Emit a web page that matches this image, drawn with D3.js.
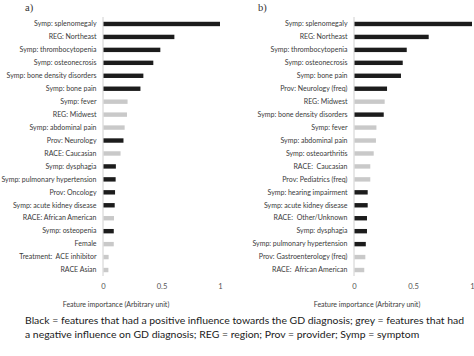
<!DOCTYPE html>
<html>
<head>
<meta charset="utf-8">
<script src="https://cdn.jsdelivr.net/npm/d3@7"></script>
<style>
html,body{margin:0;padding:0;background:#fff;}
svg{display:block;}
svg text{white-space:pre;}
</style>
</head>
<body>
<svg id="chart" width="474" height="356"></svg>
<script>
// Panel a)
const labelsA = ["Symp: splenomegaly","REG: Northeast","Symp: thrombocytopenia","Symp: osteonecrosis","Symp: bone density disorders","Symp: bone pain","Symp: fever","REG: Midwest","Symp: abdominal pain","Prov: Neurology","RACE: Caucasian","Symp: dysphagia","Symp: pulmonary hypertension","Prov: Oncology","Symp: acute kidney disease","RACE: African American","Symp: osteopenia","Female","Treatment:  ACE inhibitor","RACE Asian"];
const valuesA = [1.0,0.61,0.49,0.43,0.345,0.32,0.21,0.205,0.185,0.175,0.15,0.11,0.108,0.103,0.10,0.094,0.092,0.092,0.048,0.046];
const positiveA = [1,1,1,1,1,1,0,0,0,1,0,1,1,1,1,0,1,0,0,0];
// Panel b)
const labelsB = ["Symp: splenomegaly","REG: Northeast","Symp: thrombocytopenia","Symp: osteonecrosis","Symp: bone pain","Prov: Neurology (freq)","REG: Midwest","Symp: bone density disorders","Symp: fever","Symp: abdominal pain","Symp: osteoarthritis","RACE:  Caucasian","Prov: Pediatrics (freq)","Symp: hearing impairment","Symp: acute kidney disease","RACE:  Other/Unknown","Symp: dysphagia","Symp: pulmonary hypertension","Prov: Gastroenterology (freq)","RACE:  African American"];
const valuesB = [1.0,0.633,0.447,0.413,0.398,0.28,0.26,0.252,0.19,0.186,0.167,0.138,0.138,0.116,0.116,0.11,0.11,0.10,0.096,0.087];
const positiveB = [1,1,1,1,1,1,0,1,0,0,0,0,0,1,1,1,1,1,0,0];
const tickValues = [0, 0.5, 1];
const tickLabels = ["0", "0.5", "1"];
const axisTitle = "Feature importance (Arbitrary unit)";
const panelTags = ["a)", "b)"];
const captionLines = ["Black = features that had a positive influence towards the GD diagnosis; grey = features that had","a negative influence on GD diagnosis; REG = region; Prov = provider; Symp = symptom"];

const svg = d3.select("#chart");
const FONT = "Lato, 'Open Sans', sans-serif";

function panel(cfg) {
  const {labels, values, positive, x0, x1, tag, tagX, titleX} = cfg;
  const x = d3.scaleLinear().domain([0, 1]).range([x0, x1]);
  const y = d3.scaleBand().domain(labels).range([17.5, 276.5]).paddingInner(0.66).paddingOuter(0.33);
  const g = svg.append("g");
  g.append("line").attr("x1", x0).attr("x2", x0).attr("y1", 17).attr("y2", 276)
    .attr("stroke", "#d0d0d0").attr("stroke-width", 1);
  g.selectAll("rect.bar").data(labels).join("rect")
    .attr("class", "bar")
    .attr("x", x0 + 0.5)
    .attr("y", d => y(d))
    .attr("width", (d, i) => x(values[i]) - x0 - 0.5)
    .attr("height", y.bandwidth())
    .attr("fill", (d, i) => positive[i] ? "#1c1c1c" : "#c9c9c9");
  const ax = d3.axisLeft(y).tickSize(0).tickPadding(6.5);
  const ga = g.append("g").attr("transform", `translate(${x0},0)`).call(ax);
  ga.select(".domain").remove();
  ga.selectAll("text").attr("font-family", FONT).attr("font-size", 7.0).attr("fill", "#3a3a3a");
  const bx = d3.axisBottom(x).tickValues(tickValues).tickFormat((d, i) => tickLabels[i]).tickSize(0).tickPadding(0);
  const gb = g.append("g").attr("transform", `translate(0,284)`).call(bx);
  gb.select(".domain").remove();
  gb.selectAll("text").attr("font-family", FONT).attr("font-size", 7.6).attr("fill", "#555");
  g.append("text").attr("x", titleX).attr("y", 307).attr("text-anchor", "middle")
    .attr("font-family", FONT).attr("font-size", 7.0).attr("fill", "#3a3a3a").text(axisTitle);
  g.append("text").attr("x", tagX).attr("y", 11).attr("font-family", "'Liberation Serif', 'DejaVu Serif', serif")
    .attr("font-size", 10.5).attr("fill", "#333").text(tag);
}

panel({labels: labelsA, values: valuesA, positive: positiveA, x0: 103, x1: 220, tag: panelTags[0], tagX: 25, titleX: 116});
panel({labels: labelsB, values: valuesB, positive: positiveB, x0: 354, x1: 472, tag: panelTags[1], tagX: 258, titleX: 367});

const cap = svg.append("text").attr("font-family", FONT).attr("font-size", 10.43).attr("fill", "#1a1a1a");
captionLines.forEach((t, i) => {
  cap.append("tspan").attr("x", 25).attr("y", 324 + i * 13.5).text(t);
});
</script>
</body>
</html>
